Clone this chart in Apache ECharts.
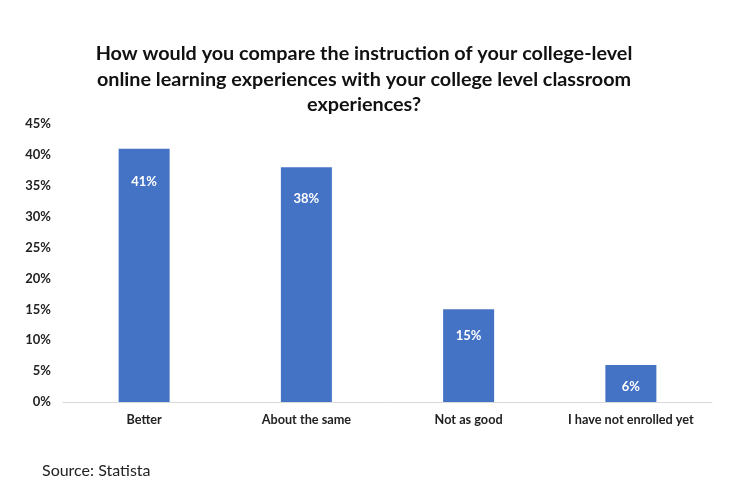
<!DOCTYPE html>
<html>
<head>
<meta charset="utf-8">
<script src="https://cdn.jsdelivr.net/npm/echarts@6/dist/echarts.min.js"></script>
<style>html,body{margin:0;padding:0;background:#fff}#c{width:731px;height:500px}</style>
</head>
<body>
<div id="c"></div>
<script>
const categories = ['Better', 'About the same', 'Not as good', 'I have not enrolled yet'];
const shares = [41, 38, 15, 6];
const yTicks = { min: 0, max: 45, interval: 5 };
const titleText = 'How would you compare the instruction of your college-level\nonline learning experiences with your college level classroom\nexperiences?';
const sourceText = 'Source: Statista';
const labelGaps = [27, 25, 20, 15];

const chart = echarts.init(document.getElementById('c'));
const font = 'Lato, "Liberation Sans", sans-serif';
chart.setOption({
  backgroundColor: '#fff',
  animation: false,
  title: [{
    text: titleText,
    left: 359,
    top: 36,
    textAlign: 'center',
    textStyle: { fontFamily: font, fontWeight: 'bold', fontSize: 19.8, lineHeight: 25.5, color: '#111' }
  }, {
    text: sourceText,
    left: 37,
    top: 458,
    textStyle: { fontFamily: font, fontWeight: 'normal', fontSize: 16, color: '#222' }
  }],
  grid: { left: 63, right: 19, top: 124, bottom: 98, containLabel: false },
  xAxis: {
    type: 'category',
    data: categories,
    axisLine: { lineStyle: { color: '#d9d9d9', width: 1 } },
    axisTick: { show: false },
    axisLabel: { interval: 0, fontFamily: font, fontWeight: 'bold', fontSize: 12.7, color: '#222', margin: 11 }
  },
  yAxis: {
    type: 'value',
    min: yTicks.min, max: yTicks.max, interval: yTicks.interval,
    splitLine: { show: false },
    axisLine: { show: false },
    axisTick: { show: false },
    axisLabel: { fontFamily: font, fontWeight: 'bold', fontSize: 13, color: '#222', margin: 12, formatter: v => v + '%' }
  },
  series: [{
    type: 'bar',
    barWidth: 51,
    data: shares.map((v, i) => ({ value: v, label: { distance: labelGaps[i] } })),
    itemStyle: { color: '#4472C4' },
    label: {
      show: true,
      position: 'insideTop',
      color: '#fff',
      fontFamily: font,
      fontWeight: 'bold',
      fontSize: 13,
      formatter: p => p.value + '%'
    }
  }]
});
</script>
</body>
</html>
